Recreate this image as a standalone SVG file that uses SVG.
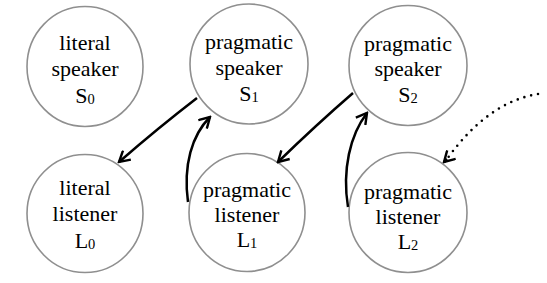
<svg xmlns="http://www.w3.org/2000/svg" width="547" height="283" viewBox="0 0 547 283">
<defs>
<marker id="ah" viewBox="0 0 14 14" refX="12" refY="7" markerWidth="14" markerHeight="14" markerUnits="userSpaceOnUse" orient="auto">
<path d="M1.5,1 L12,7 L1.5,13" fill="none" stroke="#000" stroke-width="2.4"/>
</marker>
<style>
.node ellipse{fill:#fff;stroke:#8f8f8f;stroke-width:1.6}
.node text{font-family:"Liberation Serif","Times New Roman",serif;font-size:22px;fill:#000;text-anchor:middle}
.sub{font-size:14.5px}
.edge{fill:none;stroke:#000;stroke-width:2.5}
.dot{fill:none;stroke:#000;stroke-width:2.6;stroke-linecap:round;stroke-dasharray:0 7}
</style>
</defs>
<rect width="547" height="283" fill="#fff"/>
<g id="S0" class="node">
<ellipse cx="85" cy="66.5" rx="58" ry="60"/>
<text x="85" y="50">literal</text>
<text x="85" y="76">speaker</text>
<text x="85" y="102.5">S<tspan class="sub" dy="1">0</tspan></text>
</g>
<g id="S1" class="node">
<ellipse cx="249" cy="64" rx="59" ry="60"/>
<text x="249" y="49">pragmatic</text>
<text x="249" y="75">speaker</text>
<text x="249" y="100.5">S<tspan class="sub" dy="1">1</tspan></text>
</g>
<g id="S2" class="node">
<ellipse cx="408" cy="65.5" rx="59" ry="60"/>
<text x="408" y="50.5">pragmatic</text>
<text x="408" y="76">speaker</text>
<text x="408" y="102">S<tspan class="sub" dy="1">2</tspan></text>
</g>
<g id="L0" class="node">
<ellipse cx="85" cy="213.5" rx="58" ry="59"/>
<text x="85" y="195">literal</text>
<text x="85" y="221">listener</text>
<text x="85" y="247.5">L<tspan class="sub" dy="1">0</tspan></text>
</g>
<g id="L1" class="node">
<ellipse cx="247" cy="212.5" rx="58" ry="59"/>
<text x="247" y="197">pragmatic</text>
<text x="247" y="222">listener</text>
<text x="247" y="247">L<tspan class="sub" dy="1">1</tspan></text>
</g>
<g id="L2" class="node">
<ellipse cx="408" cy="212.5" rx="59" ry="60"/>
<text x="408" y="199">pragmatic</text>
<text x="408" y="224">listener</text>
<text x="408" y="249">L<tspan class="sub" dy="1">2</tspan></text>
</g>
<g id="connectors">
<path class="edge" d="M197,98 Q158,128 119,162" marker-end="url(#ah)"/>
<path class="edge" d="M188,202 C183,165 192,135 210,117" marker-end="url(#ah)"/>
<path class="edge" d="M353,93 Q316,125 278,162" marker-end="url(#ah)"/>
<path class="edge" d="M348,207 C342,170 350,135 367,113" marker-end="url(#ah)"/>
<path class="dot" d="M538,94 Q488,102 447,159"/>
<path d="M447,159 L444,162" fill="none" stroke="#000" stroke-width="2.5" marker-end="url(#ah)"/>
</g>
</svg>
